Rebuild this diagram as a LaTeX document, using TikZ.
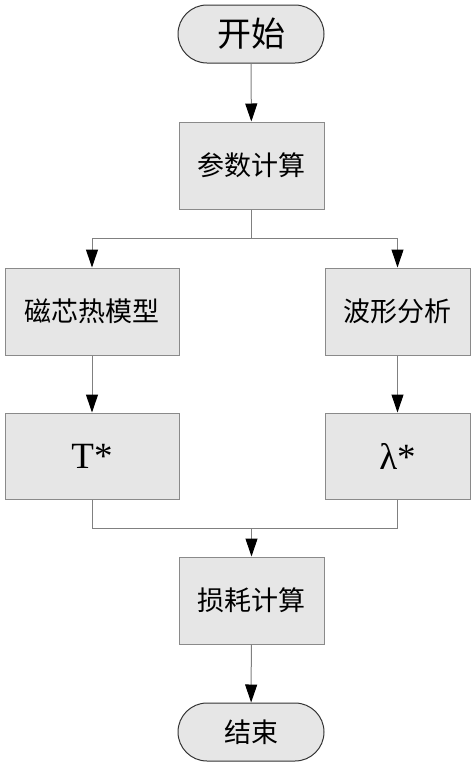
\documentclass[tikz,border=0pt]{standalone}
\usepackage{fontspec}
\setmainfont{Liberation Serif}
\newfontfamily\cjk{Noto Sans CJK SC}
\usetikzlibrary{arrows.meta}
\definecolor{boxfill}{HTML}{E6E6E6}
\definecolor{boxline}{HTML}{8A8A8A}
\definecolor{conline}{HTML}{808080}
\tikzset{
  procbox/.style={draw=boxline, line width=1pt, fill=boxfill, minimum height=87pt, inner sep=0pt, font=\cjk\fontsize{27}{30}\selectfont},
  termbox/.style={draw=black!80, line width=1pt, fill=boxfill, rounded corners=29pt, minimum width=146pt, minimum height=58pt, inner sep=0pt},
  conn/.style={draw=conline, line width=1pt},
  arr/.style={conn, -{Triangle[length=18pt, width=12pt, color=black]}}
}
\begin{document}
\begin{tikzpicture}[x=1pt, y=-1pt]
\useasboundingbox (0,0) rectangle (474,766);
\node[termbox, font=\cjk\fontsize{34}{36}\selectfont] (start) at (251,34) {开始};
\node[procbox, minimum width=145pt] (calc) at (251.5,165.5) {参数计算};
\node[procbox, minimum width=174pt] (core) at (92,311.5) {磁芯热模型};
\node[procbox, minimum width=145pt] (wave) at (397.5,311.5) {波形分析};
\node[procbox, minimum width=174pt, minimum height=86pt, font=\fontsize{37}{40}\selectfont] (T) at (92,456) {T*};
\node[procbox, minimum width=145pt, minimum height=86pt, font=\fontsize{37}{40}\selectfont] (lam) at (397.5,456) {λ*};
\node[procbox, minimum width=145pt] (loss) at (251.5,600.5) {损耗计算};
\node[termbox, font=\cjk\fontsize{27}{30}\selectfont] (end) at (251,732) {结束};
\coordinate (split) at (251.5,238);
\coordinate (merge) at (251.5,528);
\draw[arr] (start) -- (calc);
\draw[conn] (calc.south) -- (split);
\draw[arr] (split) -| (core.north);
\draw[arr] (split) -| (wave.north);
\draw[arr] (core) -- (T);
\draw[arr] (wave) -- (lam);
\draw[conn] (T.south) |- (merge);
\draw[conn] (lam.south) |- (merge);
\draw[arr] (merge) -- (loss.north);
\draw[arr] (loss) -- (end);
\end{tikzpicture}
\end{document}
